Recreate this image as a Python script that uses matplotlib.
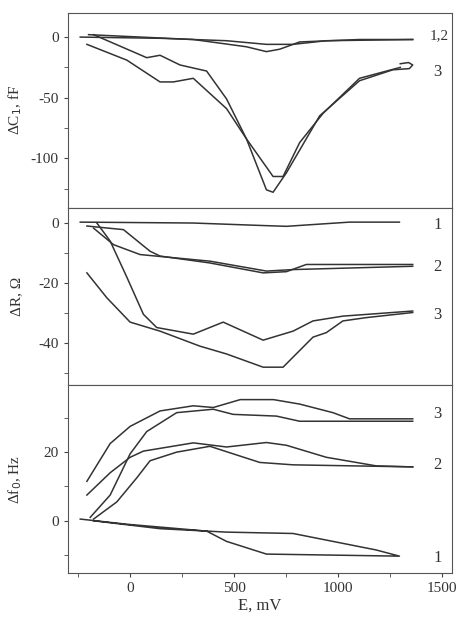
import matplotlib
matplotlib.use("Agg")
import matplotlib.pyplot as plt
from matplotlib.ticker import MultipleLocator

plt.rcParams['font.family'] = ['Liberation Serif', 'DejaVu Serif']
plt.rcParams['font.size'] = 11
plt.rcParams['axes.unicode_minus'] = False

# --- top panel: dC1, fF ---
c3_fwd_x = [-208, -16, 144, 208, 304, 464, 560, 656, 688, 752, 912, 1104, 1264, 1344, 1360, 1340, 1300]
c3_fwd_y = [-6, -19, -37, -37, -34, -59, -84, -126, -128, -112, -65, -36, -27, -26, -23, -21, -22]
c3_bwd_x = [1300, 1104, 928, 816, 736, 688, 560, 464, 368, 240, 144, 80, -176]
c3_bwd_y = [-25, -34, -63, -87, -115, -115, -84, -51, -28, -23, -15, -17, 2]
c12a_x = [-240, 144, 464, 656, 784, 944, 1360]
c12a_y = [0, -1, -3, -6, -6, -3, -2]
c12b_x = [-200, 304, 560, 656, 720, 816, 1104, 1360]
c12b_y = [2, -2, -8, -12, -10, -4, -2, -2]

# --- middle panel: dR, Ohm ---
r1_x = [-240, 304, 624, 752, 1056, 1296]
r1_y = [0.3, 0, -0.8, -1.1, 0.3, 0.3]
r2a_x = [-208, -32, 96, 144, 384, 640, 752, 848, 1360]
r2a_y = [-1, -2.2, -9.4, -11, -13.3, -16.6, -16.2, -13.8, -13.8]
r2b_x = [1360, 784, 656, 384, 48, -80, -176]
r2b_y = [-14.4, -15.5, -16, -12.7, -10.5, -7.2, -1.7]
r3a_x = [-160, -96, -16, 64, 128, 304, 448, 640, 784, 880, 1024, 1360]
r3a_y = [0, -6, -18, -30.4, -34.8, -37, -33, -39, -36, -32.6, -31, -29.3]
r3b_x = [-208, -112, 0, 144, 336, 464, 640, 736, 880, 944, 1024, 1136, 1360]
r3b_y = [-16.6, -24.9, -33, -36, -41, -43.6, -48, -48, -38, -36.5, -32.6, -31.5, -29.8]

# --- bottom panel: df0, Hz ---
f3a_x = [-208, -96, 0, 144, 304, 400, 530, 690, 816, 976, 1056, 1360]
f3a_y = [11.5, 22.5, 27.5, 32, 33.5, 33, 35.3, 35.3, 34, 31.5, 29.7, 29.7]
f3b_x = [-192, -96, 0, 80, 224, 400, 496, 704, 816, 1360]
f3b_y = [1, 7.5, 19.5, 26, 31.5, 32.5, 31, 30.5, 29, 29]
f2a_x = [-208, -96, 0, 64, 304, 464, 656, 752, 944, 1184, 1360]
f2a_y = [7.5, 14, 18.5, 20.3, 22.7, 21.5, 22.8, 22, 18.5, 16, 15.7]
f2b_x = [-176, -64, 32, 96, 224, 384, 496, 624, 784, 1360]
f2b_y = [0.5, 5.5, 12.5, 17.5, 20, 21.7, 19.5, 17, 16.3, 15.7]
f1_x = [-240, -16, 368, 464, 656, 1296, 1184, 784, 464, 144, -176]
f1_y = [0.5, -1, -3, -6, -9.7, -10.3, -8.5, -3.7, -3.3, -2.3, 0]

fig = plt.figure(figsize=(4.74, 6.42), dpi=100)
L, W = 0.143, 0.811
ax1 = fig.add_axes([L, 0.676, W, 0.304])
ax2 = fig.add_axes([L, 0.400, W, 0.276], sharex=ax1)
ax3 = fig.add_axes([L, 0.107, W, 0.293], sharex=ax1)

kw = dict(color='#333333', lw=1.1)
for x, y in [(c3_fwd_x, c3_fwd_y), (c3_bwd_x, c3_bwd_y), (c12a_x, c12a_y), (c12b_x, c12b_y)]:
    ax1.plot(x, y, **kw)
for x, y in [(r1_x, r1_y), (r2a_x, r2a_y), (r2b_x, r2b_y), (r3a_x, r3a_y), (r3b_x, r3b_y)]:
    ax2.plot(x, y, **kw)
for x, y in [(f3a_x, f3a_y), (f3b_x, f3b_y), (f2a_x, f2a_y), (f2b_x, f2b_y), (f1_x, f1_y)]:
    ax3.plot(x, y, **kw)

ax1.set_xlim(-300, 1550)
ax1.set_ylim(-141, 20)
ax2.set_ylim(-54, 5)
ax3.set_ylim(-15.3, 39.5)

ax1.yaxis.set_major_locator(MultipleLocator(50))
ax1.yaxis.set_minor_locator(MultipleLocator(25))
ax2.yaxis.set_major_locator(MultipleLocator(20))
ax2.yaxis.set_minor_locator(MultipleLocator(10))
ax3.yaxis.set_major_locator(MultipleLocator(20))
ax3.yaxis.set_minor_locator(MultipleLocator(10))
ax3.xaxis.set_major_locator(MultipleLocator(500))
ax3.xaxis.set_minor_locator(MultipleLocator(250))

for ax in (ax1, ax2, ax3):
    ax.tick_params(which='both', direction='out', length=3, colors='#444444', labelcolor='#333333')
    for s in ax.spines.values():
        s.set_color('#555555')
for ax in (ax1, ax2):
    ax.tick_params(labelbottom=False)

ax1.set_ylabel('ΔC$_1$, fF', color='#333333')
ax2.set_ylabel('ΔR, Ω', color='#333333')
ax3.set_ylabel('Δf$_0$, Hz', color='#333333')
ax3.set_xlabel('E, mV', color='#333333', fontsize=12, labelpad=2)
for ax in (ax1, ax2, ax3):
    ax.yaxis.set_label_coords(-0.115, 0.5)

ax1.text(1440, -2, '1,2', color='#333333', fontsize=11)
ax1.text(1460, -32, '3', color='#333333', fontsize=12)
ax2.text(1460, -2, '1', color='#333333', fontsize=12)
ax2.text(1460, -16, '2', color='#333333', fontsize=12)
ax2.text(1460, -32, '3', color='#333333', fontsize=12)
ax3.text(1460, 30, '3', color='#333333', fontsize=12)
ax3.text(1460, 15, '2', color='#333333', fontsize=12)
ax3.text(1460, -12, '1', color='#333333', fontsize=12)

fig.savefig('out.png', dpi=100)
